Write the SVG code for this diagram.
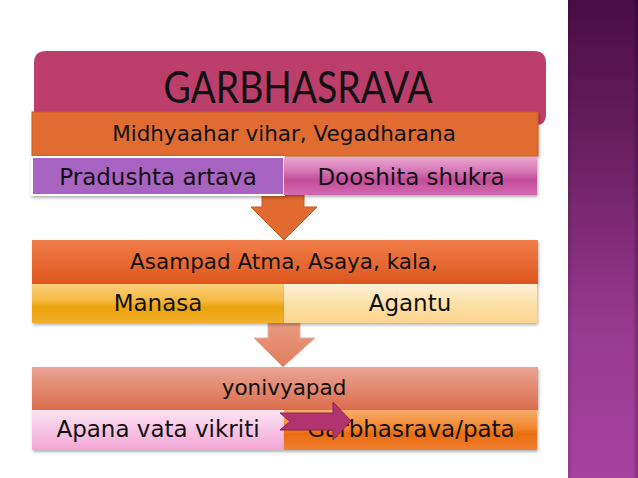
<svg xmlns="http://www.w3.org/2000/svg" width="638" height="478" viewBox="0 0 638 478">
<defs>
<linearGradient id="side" x1="0" y1="0" x2="0" y2="1">
<stop offset="0" stop-color="#4a0c45"/><stop offset="0.35" stop-color="#6e2266"/><stop offset="0.7" stop-color="#9a3a92"/><stop offset="1" stop-color="#a8429f"/>
</linearGradient>
<linearGradient id="sideEdge" x1="0" y1="0" x2="1" y2="0">
<stop offset="0" stop-color="#000" stop-opacity="0.12"/><stop offset="0.08" stop-color="#000" stop-opacity="0"/><stop offset="0.92" stop-color="#000" stop-opacity="0"/><stop offset="1" stop-color="#000" stop-opacity="0.25"/>
</linearGradient>
<linearGradient id="bar2g" x1="0" y1="0" x2="0" y2="1"><stop offset="0" stop-color="#f07e4a"/><stop offset="1" stop-color="#df561e"/></linearGradient>
<linearGradient id="bar3g" x1="0" y1="0" x2="0" y2="1"><stop offset="0" stop-color="#eaa494"/><stop offset="1" stop-color="#db6c4c"/></linearGradient>
<linearGradient id="dooG" x1="0" y1="0" x2="0" y2="1"><stop offset="0" stop-color="#e9a8cd"/><stop offset="0.35" stop-color="#d77ab7"/><stop offset="0.6" stop-color="#c44c9b"/><stop offset="1" stop-color="#d26aae"/></linearGradient>
<linearGradient id="manG" x1="0" y1="0" x2="0" y2="1"><stop offset="0" stop-color="#f9cf7c"/><stop offset="0.4" stop-color="#f5bb45"/><stop offset="0.6" stop-color="#eea30f"/><stop offset="1" stop-color="#f0ae2a"/></linearGradient>
<linearGradient id="agaG" x1="0" y1="0" x2="0" y2="1"><stop offset="0" stop-color="#fef2d8"/><stop offset="0.5" stop-color="#fde0a8"/><stop offset="1" stop-color="#fcd48e"/></linearGradient>
<linearGradient id="apaG" x1="0" y1="0" x2="0" y2="1"><stop offset="0" stop-color="#fde4f2"/><stop offset="0.5" stop-color="#f8c4e4"/><stop offset="1" stop-color="#f2a6d4"/></linearGradient>
<linearGradient id="garG" x1="0" y1="0" x2="0" y2="1"><stop offset="0" stop-color="#f8ad6a"/><stop offset="0.45" stop-color="#f2852e"/><stop offset="0.6" stop-color="#ea6c12"/><stop offset="1" stop-color="#f08030"/></linearGradient>
<linearGradient id="arr2G" x1="0" y1="0" x2="0" y2="1"><stop offset="0" stop-color="#e99a80"/><stop offset="1" stop-color="#e07c60"/></linearGradient>
<filter id="sh" x="-5%" y="-10%" width="110%" height="130%"><feDropShadow dx="1" dy="2" stdDeviation="1.5" flood-color="#000" flood-opacity="0.3"/></filter>
</defs>
<style>
text{font-family:"DejaVu Sans","Noto Sans",sans-serif;fill:#111;text-anchor:middle}
.t{font-size:21.5px}
.c{font-size:23px}
.ttl{font-family:"Lato","DejaVu Sans",sans-serif;font-size:44px}
</style>
<rect x="0" y="0" width="638" height="478" fill="#fff"/>
<g id="sidebar">
<rect x="568" y="0" width="70" height="478" fill="url(#side)"/>
<rect x="568" y="0" width="70" height="478" fill="url(#sideEdge)"/>
</g>
<g id="title">
<path d="M46,51 H534 Q546,51 546,63 V115 Q546,125 536,125 H34 V63 Q34,51 46,51 Z" fill="#bc3e6a"/>
<text class="ttl" x="298" y="103" textLength="269" lengthAdjust="spacingAndGlyphs">GARBHASRAVA</text>
</g>
<g id="connectors">
<path d="M262,195 H304 V207 H317 L284,240 L251,207 H262 Z" fill="#e16a30" stroke="#c8581f" stroke-width="1"/>
<path d="M268,323 H300 V338 H315 L283,367 L254,338 H268 Z" fill="url(#arr2G)" stroke="#e8b0a0" stroke-width="1"/>
</g>
<g id="bar1">
<rect x="32" y="112" width="506" height="44" fill="#e06c31" stroke="#c85a24" stroke-width="1" filter="url(#sh)"/>
<text class="t" x="284" y="141">Midhyaahar vihar, Vegadharana</text>
</g>
<g id="pradushta">
<rect x="32" y="157" width="252" height="38" fill="#a963c1" stroke="#fff" stroke-width="2" filter="url(#sh)"/>
<text class="c" x="158" y="185">Pradushta artava</text>
</g>
<g id="dooshita">
<rect x="284" y="157" width="253" height="38" fill="url(#dooG)" filter="url(#sh)"/>
<text class="c" x="411" y="185">Dooshita shukra</text>
</g>
<g id="bar2">
<rect x="32" y="240" width="506" height="44" fill="url(#bar2g)" filter="url(#sh)"/>
<text class="t" x="284" y="269">Asampad Atma, Asaya, kala,</text>
</g>
<g id="manasa">
<rect x="32" y="284" width="252" height="39" fill="url(#manG)" filter="url(#sh)"/>
<text class="c" x="158" y="311">Manasa</text>
</g>
<g id="agantu">
<rect x="284" y="284" width="253" height="39" fill="url(#agaG)" filter="url(#sh)"/>
<text class="c" x="410" y="311">Agantu</text>
</g>
<g id="bar3">
<rect x="32" y="367" width="506" height="43" fill="url(#bar3g)" filter="url(#sh)"/>
<text class="t" x="284" y="395">yonivyapad</text>
</g>
<g id="apana">
<rect x="32" y="410" width="252" height="40" fill="url(#apaG)" filter="url(#sh)"/>
<text class="c" x="158" y="437">Apana vata vikriti</text>
</g>
<g id="garbhasrava">
<rect x="284" y="410" width="253" height="40" fill="url(#garG)" filter="url(#sh)"/>
<text class="c" x="411" y="437">Garbhasrava/pata</text>
</g>
<g id="right-arrow">
<path d="M280,413 H333 V402 L351,421 L333,440 V430 H280 L290,421.5 Z" fill="#b2346f" stroke="#8e2458" stroke-width="1"/>
</g>
</svg>
